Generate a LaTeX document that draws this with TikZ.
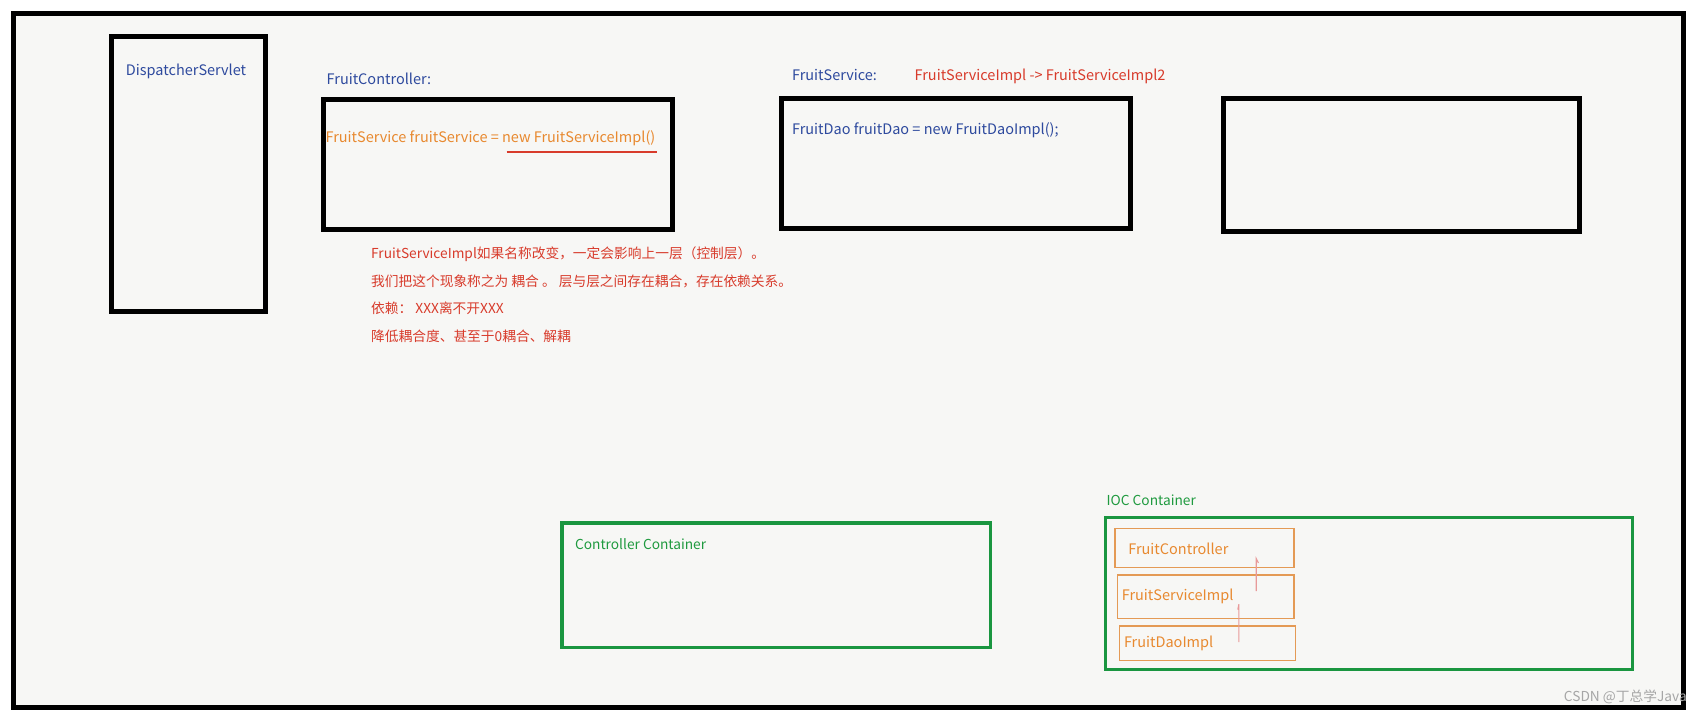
\documentclass[tikz,border=0pt]{standalone}
\usepackage{fontspec}
\setmainfont{Noto Sans CJK SC}
\begin{document}
\begin{tikzpicture}[x=0.05cm,y=-0.05cm,
  blk/.style={draw=black,line width=0.23cm},
  grn/.style={draw=grbox,line width=0.16cm},
  org/.style={draw=orbox,line width=0.07cm},
  txt/.style={anchor=west,inner sep=0pt,font=\fontsize{19}{22}\selectfont},
  small/.style={anchor=west,inner sep=0pt,font=\fontsize{18}{21}\selectfont}]
\definecolor{bgc}{HTML}{F7F7F5}
\definecolor{blu}{HTML}{2E4A9E}
\definecolor{orn}{HTML}{E8892F}
\definecolor{orbox}{HTML}{E49A55}
\definecolor{rd}{HTML}{D83B2B}
\definecolor{gr}{HTML}{1F9A3F}
\definecolor{grbox}{HTML}{1A9640}
\definecolor{pk}{HTML}{E89A9A}
\fill[white] (0,0) rectangle (1568,661);
\useasboundingbox (0,0) rectangle (1568,661);
\fill[bgc] (12,12) rectangle (1552,652);
\draw[blk] (12,12) rectangle (1552,652);
% DispatcherServlet
\draw[blk] (103,34) rectangle (245,287);
\node[txt,text=blu] (ds) at (116,66) {DispatcherServlet};
% FruitController
\node[txt,text=blu] (fcl) at (301,73) {FruitController:};
\draw[blk] (298,92) rectangle (620,212);
\node[txt,text=orn] (fct) at (300,127) {FruitService fruitService = new FruitServiceImpl()};
\draw[rd,line width=0.07cm] (467,140) -- (606,140);
% FruitService
\node[txt,text=blu] (fsl) at (730,69) {FruitService:};
\node[txt,text=rd] (fsr) at (843,70) {FruitServiceImpl -> FruitServiceImpl2};
\draw[blk] (720,91) rectangle (1042,211);
\node[txt,text=blu] (fst) at (730,120) {FruitDao fruitDao = new FruitDaoImpl();};
\draw[blk] (1128,91) rectangle (1456,213);
% notes
\node[small,text=rd] (n1) at (342,234) {FruitServiceImpl如果名称改变，一定会影响上一层（控制层）。};
\node[small,text=rd] (n2) at (342,259) {我们把这个现象称之为 耦合 。 层与层之间存在耦合，存在依赖关系。};
\node[small,text=rd] (n3) at (342,284) {依赖： XXX离不开XXX};
\node[small,text=rd] (n4) at (342,310) {降低耦合度、甚至于0耦合、解耦};
% Controller container
\draw[grn] (518,482) rectangle (913,597);
\node[small,text=gr] (cc) at (530,502) {Controller Container};
% IOC
\node[small,text=gr] (ioc) at (1020,461) {IOC Container};
\draw[grn] (1019,477) rectangle (1505,617);
\draw[org] (1028,487) rectangle (1193,523);
\node[txt,text=orn] (b1) at (1040,506) {FruitController};
\draw[org] (1030,530) rectangle (1193,570);
\node[txt,text=orn] (b2) at (1034,550) {FruitServiceImpl};
\draw[org] (1032,577) rectangle (1194,609);
\node[txt,text=orn] (b3) at (1036,593) {FruitDaoImpl};
\coordinate (p1a) at (1158,545); \coordinate (p1b) at (1158,515);
\coordinate (p2a) at (1142,592); \coordinate (p2b) at (1142,557);
\draw[pk,line width=0.05cm] (p1a) -- (p1b) -- ++(2,4);
\draw[pk,line width=0.05cm] (p2a) -- (p2b) -- ++(-1,5);
\node[anchor=east,inner sep=0pt,text=gray!70,font=\fontsize{18}{21}\selectfont] (wm) at (1555,642) {CSDN @丁总学Java};
\end{tikzpicture}
\end{document}
